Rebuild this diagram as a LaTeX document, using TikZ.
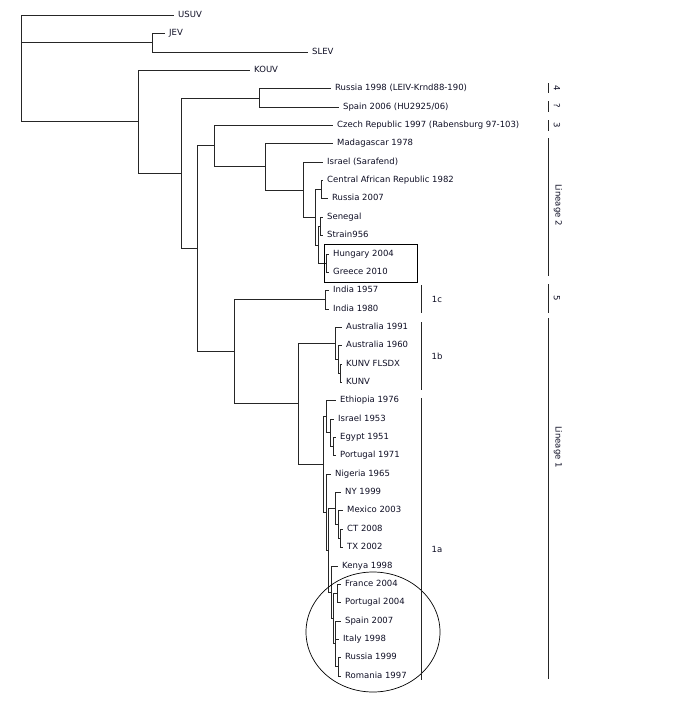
\documentclass[tikz,border=0pt]{standalone}
\usepackage{fontspec}
\setmainfont{DejaVu Sans}
\usepackage{xcolor}
\usepackage{tikz}
\definecolor{tiptext}{RGB}{14,14,36}
\tikzset{
  branch/.style={line width=0.9pt, draw=black!85},
  leaf/.style={anchor=west, inner xsep=4pt, inner ysep=1pt, text height=6.2pt, text depth=0.8pt, font=\fontsize{8.5}{10}\selectfont, text=tiptext},
  clade/.style={line width=1pt, draw=black!85},
  cladelab/.style={font=\fontsize{8.5}{10}\selectfont, text=tiptext, inner sep=1pt},
  hilite/.style={line width=0.7pt, draw=black},
}

\begin{document}
\begin{tikzpicture}[x=1pt, y=-1pt]
\useasboundingbox (0,0) rectangle (674,705);
% tips
\node[leaf] (usuv) at (174,15) {USUV};
\node[leaf] (jev) at (165,33) {JEV};
\node[leaf] (slev) at (308,52) {SLEV};
\node[leaf] (kouv) at (250,70) {KOUV};
\node[leaf] (rus98) at (331,88) {Russia 1998 (LEIV-Krnd88-190)};
\node[leaf] (spa06) at (339,107) {Spain 2006 (HU2925/06)};
\node[leaf] (cze97) at (333,125) {Czech Republic 1997 (Rabensburg 97-103)};
\node[leaf] (mad78) at (333,143) {Madagascar 1978};
\node[leaf] (isrS) at (323,162) {Israel (Sarafend)};
\node[leaf] (car82) at (323,180) {Central African Republic 1982};
\node[leaf] (rus07) at (328,198) {Russia 2007};
\node[leaf] (sen) at (323,217) {Senegal};
\node[leaf] (s956) at (323,235) {Strain956};
\node[leaf] (hun04) at (329,254) {Hungary 2004};
\node[leaf] (gre10) at (329,272) {Greece 2010};
\node[leaf] (ind57) at (329,290) {India 1957};
\node[leaf] (ind80) at (329,309) {India 1980};
\node[leaf] (aus91) at (342,327) {Australia 1991};
\node[leaf] (aus60) at (342,345) {Australia 1960};
\node[leaf] (kunvf) at (342,364) {KUNV FLSDX};
\node[leaf] (kunv) at (342,382) {KUNV};
\node[leaf] (eth76) at (336,400) {Ethiopia 1976};
\node[leaf] (isr53) at (334,419) {Israel 1953};
\node[leaf] (egy51) at (336,437) {Egypt 1951};
\node[leaf] (por71) at (336,455) {Portugal 1971};
\node[leaf] (nig65) at (331,474) {Nigeria 1965};
\node[leaf] (ny99) at (341,492) {NY 1999};
\node[leaf] (mex03) at (343,510) {Mexico 2003};
\node[leaf] (ct08) at (343,529) {CT 2008};
\node[leaf] (tx02) at (343,547) {TX 2002};
\node[leaf] (ken98) at (338,566) {Kenya 1998};
\node[leaf] (fra04) at (341,584) {France 2004};
\node[leaf] (por04) at (341,602) {Portugal 2004};
\node[leaf] (spa07) at (341,621) {Spain 2007};
\node[leaf] (ita98) at (339,639) {Italy 1998};
\node[leaf] (rus99) at (341,657) {Russia 1999};
\node[leaf] (rom97) at (341,676) {Romania 1997};
% inner nodes
\coordinate (root) at (21,68);
\coordinate (nJS) at (152,42);
\coordinate (nK) at (138,121);
\coordinate (nA) at (181,173);
\coordinate (nRS) at (259,98);
\coordinate (nB) at (197,248);
\coordinate (nC) at (214,145);
\coordinate (nD) at (265,166);
\coordinate (nE) at (303,190);
\coordinate (nF) at (315,217);
\coordinate (nCR) at (321,189);
\coordinate (nG) at (318,245);
\coordinate (nSS) at (320,226);
\coordinate (nHG) at (326,263);
\coordinate (nL1) at (234,351);
\coordinate (n1c) at (325,299);
\coordinate (n1ab) at (298,403);
\coordinate (n1b) at (335,343);
\coordinate (nAu) at (338,359);
\coordinate (nKU) at (340,373);
\coordinate (n1a) at (323,464);
\coordinate (nEt) at (326,416);
\coordinate (nIs) at (330,432);
\coordinate (nEP) at (333,446);
\coordinate (nNg) at (326,512);
\coordinate (nAm) at (328,550);
\coordinate (nUS) at (335,508);
\coordinate (nMx) at (338,524);
\coordinate (nCT) at (340,538);
\coordinate (nEu) at (331,592);
\coordinate (nEu2) at (333,618);
\coordinate (nFP) at (337,593);
\coordinate (nSIR) at (335,643);
\coordinate (nRR) at (338,666);
% outgroups and lineage 2
\draw[branch] (root) |- (usuv.west) (root) |- (nJS) (root) |- (nK);
\draw[branch] (nJS) |- (jev.west) (nJS) |- (slev.west);
\draw[branch] (nK) |- (kouv.west) (nK) |- (nA);
\draw[branch] (nA) |- (nRS) (nA) |- (nB);
\draw[branch] (nRS) |- (rus98.west) (nRS) |- (spa06.west);
\draw[branch] (nB) |- (nC) (nB) |- (nL1);
\draw[branch] (nC) |- (cze97.west) (nC) |- (nD);
\draw[branch] (nD) |- (mad78.west) (nD) |- (nE);
\draw[branch] (nE) |- (isrS.west) (nE) |- (nF);
\draw[branch] (nF) |- (nCR) (nF) |- (nG);
\draw[branch] (nCR) |- (car82.west) (nCR) |- (rus07.west);
\draw[branch] (nG) |- (nSS) (nG) |- (nHG);
\draw[branch] (nSS) |- (sen.west) (nSS) |- (s956.west);
\draw[branch] (nHG) |- (hun04.west) (nHG) |- (gre10.west);
% lineage 1
\draw[branch] (nL1) |- (n1c) (nL1) |- (n1ab);
\draw[branch] (n1c) |- (ind57.west) (n1c) |- (ind80.west);
\draw[branch] (n1ab) |- (n1b) (n1ab) |- (n1a);
\draw[branch] (n1b) |- (aus91.west) (n1b) |- (nAu);
\draw[branch] (nAu) |- (aus60.west) (nAu) |- (nKU);
\draw[branch] (nKU) |- (kunvf.west) (nKU) |- (kunv.west);
\draw[branch] (n1a) |- (nEt) (n1a) |- (nNg);
\draw[branch] (nEt) |- (eth76.west) (nEt) |- (nIs);
\draw[branch] (nIs) |- (isr53.west) (nIs) |- (nEP);
\draw[branch] (nEP) |- (egy51.west) (nEP) |- (por71.west);
\draw[branch] (nNg) |- (nig65.west) (nNg) |- (nAm);
\draw[branch] (nAm) |- (nUS) (nAm) |- (nEu);
\draw[branch] (nUS) |- (ny99.west) (nUS) |- (nMx);
\draw[branch] (nMx) |- (mex03.west) (nMx) |- (nCT);
\draw[branch] (nCT) |- (ct08.west) (nCT) |- (tx02.west);
\draw[branch] (nEu) |- (ken98.west) (nEu) |- (nEu2);
\draw[branch] (nEu2) |- (nFP) (nEu2) |- (nSIR);
\draw[branch] (nFP) |- (fra04.west) (nFP) |- (por04.west);
\draw[branch] (nSIR) |- (spa07.west) (nSIR) |- (ita98.west) (nSIR) |- (nRR);
\draw[branch] (nRR) |- (rus99.west) (nRR) |- (rom97.west);
% highlights
\draw[hilite] (324,244) rectangle (417,282);
\draw[hilite] (373,632) ellipse [x radius=67, y radius=60];
% clade bars
\draw[clade] (421,285) -- (421,313);
\node[cladelab] (lab1c) at (437,299) {1c};
\draw[clade] (421,322) -- (421,390);
\node[cladelab] (lab1b) at (437,356) {1b};
\draw[clade] (421,398) -- (421,680);
\node[cladelab] (lab1a) at (437,549) {1a};
\draw[clade] (548,83) -- (548,93);
\node[cladelab, rotate=-90] (lab4) at (557,88) {4};
\draw[clade] (548,101) -- (548,112);
\node[cladelab, rotate=-90] (labq) at (557,106) {?};
\draw[clade] (548,120) -- (548,131);
\node[cladelab, rotate=-90] (lab3) at (557,125) {3};
\draw[clade] (548,138) -- (548,276);
\node[cladelab, rotate=-90] (lin2) at (558,205) {Lineage 2};
\draw[clade] (548,284) -- (548,313);
\node[cladelab, rotate=-90] (lab5) at (557,298) {5};
\draw[clade] (548,318) -- (548,679);
\node[cladelab, rotate=-90] (lin1) at (558,447) {Lineage 1};
\end{tikzpicture}
\end{document}
